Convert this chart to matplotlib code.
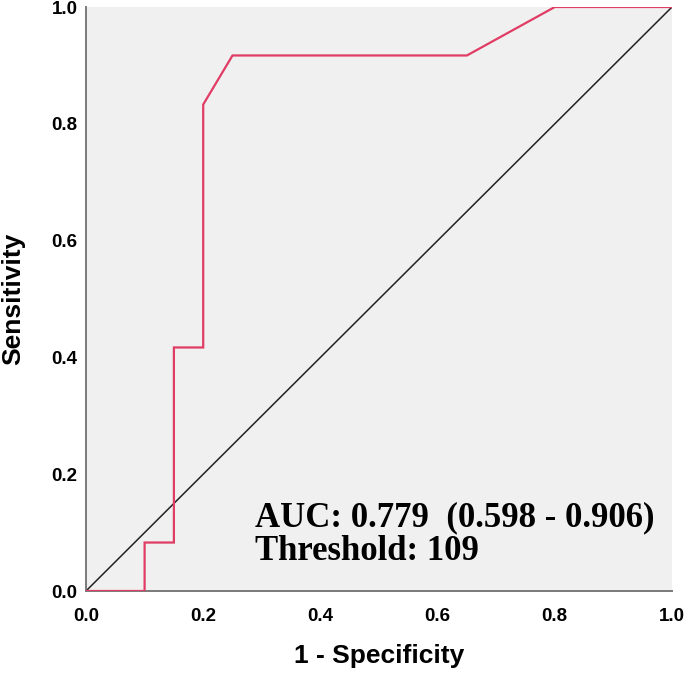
import matplotlib
matplotlib.use("Agg")
import matplotlib.pyplot as plt

# ROC curve points (1 - specificity, sensitivity)
fpr = [0.0, 0.10, 0.10, 0.15, 0.15, 0.20, 0.20, 0.25, 0.65, 0.80, 1.0]
tpr = [0.0, 0.0, 0.083, 0.083, 0.417, 0.417, 0.833, 0.917, 0.917, 1.0, 1.0]
ref_x = [0.0, 1.0]
ref_y = [0.0, 1.0]
ticks = [0.0, 0.2, 0.4, 0.6, 0.8, 1.0]
tick_labels = ["0.0", "0.2", "0.4", "0.6", "0.8", "1.0"]
auc_text = "AUC: 0.779  (0.598 - 0.906)"
thr_text = "Threshold: 109"

fig = plt.figure(figsize=(6.85, 6.79), dpi=100)
ax = fig.add_axes([86/685, (679-591)/679, 586/685, 584/679])
ax.set_facecolor("#f0f0f0")

ax.plot(ref_x, ref_y, color="#222222", lw=1.1, zorder=2)
ax.plot(fpr, tpr, color="#e03c64", lw=1.6, zorder=3, solid_joinstyle="miter")

ax.set_xlim(0, 1)
ax.set_ylim(0, 1)
ax.set_xticks(ticks)
ax.set_xticklabels(tick_labels)
ax.set_yticks(ticks)
ax.set_yticklabels(tick_labels)

for s in ["top", "right"]:
    ax.spines[s].set_visible(False)
for s in ["left", "bottom"]:
    ax.spines[s].set_color("#7a7a7a")
    ax.spines[s].set_linewidth(1.4)

ax.tick_params(axis="both", length=0, labelsize=13.5)
ax.tick_params(axis="x", pad=12)
ax.tick_params(axis="y", pad=6)
for lab in ax.get_xticklabels() + ax.get_yticklabels():
    lab.set_fontfamily("Liberation Sans")
    lab.set_fontweight("bold")

ax.set_xlabel("1 - Specificity", fontsize=19, fontweight="bold",
              family="Liberation Sans", labelpad=14)
ax.set_ylabel("Sensitivity", fontsize=19, fontweight="bold",
              family="Liberation Sans", labelpad=19)

ax.text(0.288, 0.1115, auc_text, transform=ax.transAxes, fontsize=25,
        fontweight="bold", family="Liberation Serif", va="baseline", ha="left")
ax.text(0.288, 0.053, thr_text, transform=ax.transAxes, fontsize=25,
        fontweight="bold", family="Liberation Serif", va="baseline", ha="left")

fig.savefig("out.png", dpi=100)
